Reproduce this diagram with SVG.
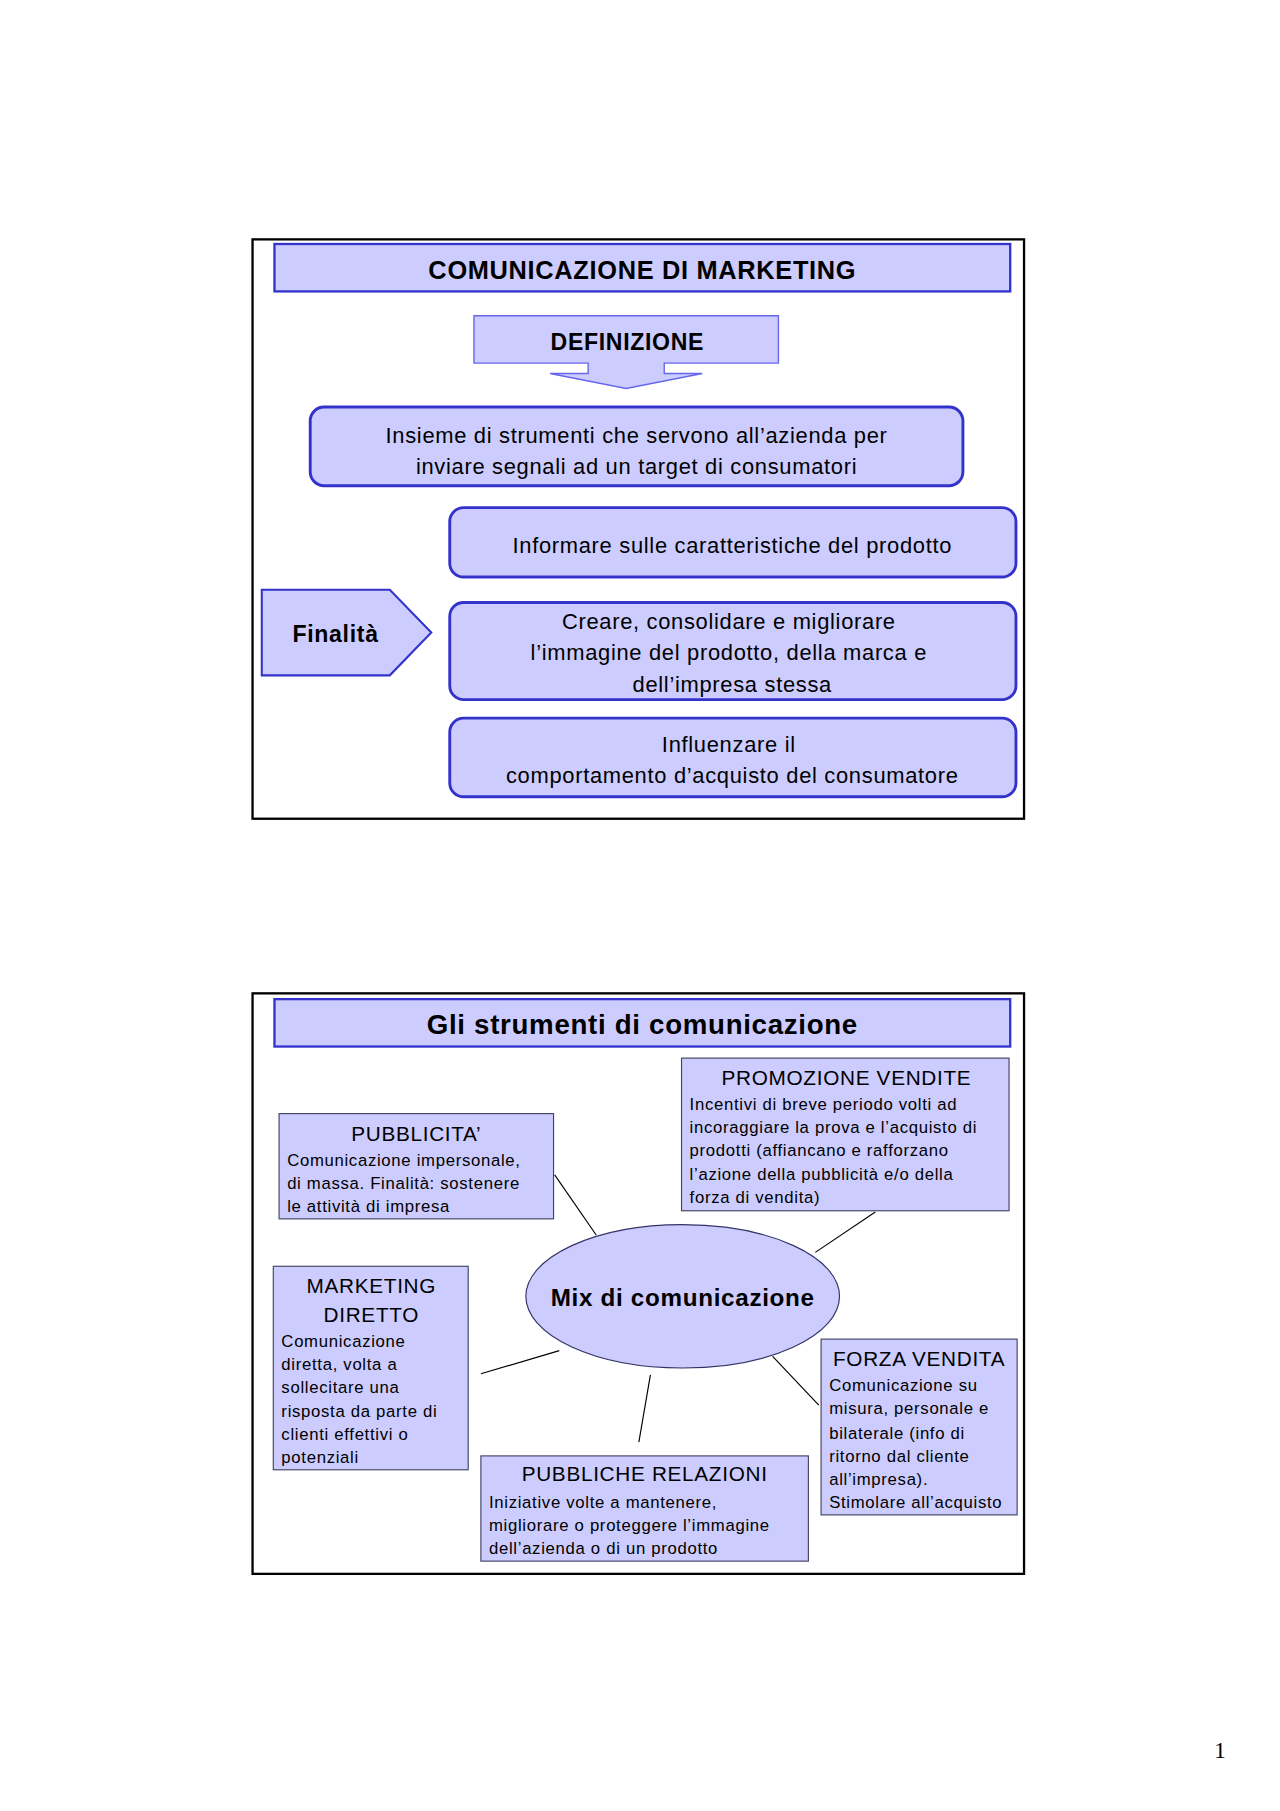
<svg xmlns="http://www.w3.org/2000/svg" width="1280" height="1811" viewBox="0 0 1280 1811">
<style>
.fr{fill:#fff;stroke:#000;stroke-width:2}
.bar{fill:#ccccff;stroke:#3333cc;stroke-width:2}
.rb{fill:#ccccff;stroke:#3333cc;stroke-width:2.5}
.thin{fill:#ccccff;stroke:#6666ee;stroke-width:1.2}
.nb{fill:#ccccff;stroke:#444466;stroke-width:1}
.t{font-family:"Liberation Sans",Arial,sans-serif;fill:#000;letter-spacing:0.6px}
.b{font-weight:bold}
.c{text-anchor:middle}
.ln{stroke:#000;stroke-width:1;fill:none}
</style>
<rect width="1280" height="1811" fill="#fff"/>
<g transform="scale(1.1532,1.1564)">
<rect class="fr" x="219" y="207" width="669" height="501"/>
<g id="title1"><rect class="bar" x="238" y="211" width="638" height="41"/><text class="t b c" x="557" y="241" font-size="22">COMUNICAZIONE DI MARKETING</text></g>
<g id="definizione"><path class="thin" d="M411,273H675V314H576V323H609L543,336L477,323H510V314H411Z"/><text class="t b c" x="544" y="303" font-size="20">DEFINIZIONE</text></g>
<g id="insieme"><rect class="rb" x="269" y="352" width="566" height="68" rx="12"/><text class="t c" font-size="19"><tspan x="552" y="383">Insieme di strumenti che servono all’azienda per</tspan><tspan x="552" y="410">inviare segnali ad un target di consumatori</tspan></text></g>
<g id="finalita"><path class="thin" stroke-width="2" d="M227,510H338L374,547L338,584H227Z" style="stroke:#3333cc;stroke-width:1.8"/><text class="t b c" x="291" y="555" font-size="20">Finalità</text></g>
<g id="f1"><rect class="rb" x="390" y="439" width="491" height="60" rx="12"/><text class="t c" x="635" y="478" font-size="19">Informare sulle caratteristiche del prodotto</text></g>
<g id="f2"><rect class="rb" x="390" y="521" width="491" height="84" rx="12"/><text class="t c" font-size="19"><tspan x="632" y="544">Creare, consolidare e migliorare</tspan><tspan x="632" y="571">l’immagine del prodotto, della marca e</tspan><tspan x="635" y="598">dell’impresa stessa</tspan></text></g>
<g id="f3"><rect class="rb" x="390" y="621" width="491" height="68" rx="12"/><text class="t c" font-size="19"><tspan x="632" y="650">Influenzare il</tspan><tspan x="635" y="677">comportamento d’acquisto del consumatore</tspan></text></g>

<rect class="fr" x="219" y="859" width="669" height="502"/>
<g id="title2"><rect class="bar" x="238" y="864" width="638" height="41"/><text class="t b c" x="557" y="894" font-size="24">Gli strumenti di comunicazione</text></g>
<g id="connectors">
<line class="ln" x1="481" y1="1016" x2="517" y2="1068"/>
<line class="ln" x1="759" y1="1048" x2="707" y2="1083"/>
<line class="ln" x1="417" y1="1188" x2="485" y2="1168"/>
<line class="ln" x1="564" y1="1189" x2="554" y2="1247"/>
<line class="ln" x1="670" y1="1173" x2="710" y2="1215"/>
</g>
<g id="promozione"><rect class="nb" x="591" y="915" width="284" height="132"/><text class="t c" x="734" y="938" font-size="18">PROMOZIONE VENDITE</text><text class="t" font-size="14.5"><tspan x="598" y="960">Incentivi di breve periodo volti ad</tspan><tspan x="598" y="980">incoraggiare la prova e l’acquisto di</tspan><tspan x="598" y="1000">prodotti (affiancano e rafforzano</tspan><tspan x="598" y="1020">l’azione della pubblicità e/o della</tspan><tspan x="598" y="1040">forza di vendita)</tspan></text></g>
<g id="pubblicita"><rect class="nb" x="242" y="963" width="238" height="91"/><text class="t c" x="361" y="987" font-size="18">PUBBLICITA’</text><text class="t" font-size="14.5"><tspan x="249" y="1008">Comunicazione impersonale,</tspan><tspan x="249" y="1028">di massa. Finalità: sostenere</tspan><tspan x="249" y="1048">le attività di impresa</tspan></text></g>
<g id="marketing"><rect class="nb" x="237" y="1095" width="169" height="176"/><text class="t c" font-size="18"><tspan x="322" y="1118">MARKETING</tspan><tspan x="322" y="1143">DIRETTO</tspan></text><text class="t" font-size="14.5"><tspan x="244" y="1165">Comunicazione</tspan><tspan x="244" y="1185">diretta, volta a</tspan><tspan x="244" y="1205">sollecitare una</tspan><tspan x="244" y="1225">risposta da parte di</tspan><tspan x="244" y="1245">clienti effettivi o</tspan><tspan x="244" y="1265">potenziali</tspan></text></g>
<g id="mix"><ellipse cx="592" cy="1121" rx="136" ry="62" fill="#ccccff" stroke="#333366" stroke-width="1"/><text class="t b c" x="592" y="1129" font-size="21">Mix di comunicazione</text></g>
<g id="forza"><rect class="nb" x="712" y="1158" width="170" height="152"/><text class="t c" x="797" y="1181" font-size="18">FORZA VENDITA</text><text class="t" font-size="14.5"><tspan x="719" y="1203">Comunicazione su</tspan><tspan x="719" y="1223">misura, personale e</tspan><tspan x="719" y="1244">bilaterale (info di</tspan><tspan x="719" y="1264">ritorno dal cliente</tspan><tspan x="719" y="1284">all’impresa).</tspan><tspan x="719" y="1304">Stimolare all’acquisto</tspan></text></g>
<g id="relazioni"><rect class="nb" x="417" y="1259" width="284" height="91"/><text class="t c" x="559" y="1281" font-size="18">PUBBLICHE RELAZIONI</text><text class="t" font-size="14.5"><tspan x="424" y="1304">Iniziative volte a mantenere,</tspan><tspan x="424" y="1324">migliorare o proteggere l’immagine</tspan><tspan x="424" y="1344">dell’azienda o di un prodotto</tspan></text></g>
<text x="1053" y="1520" font-family="Liberation Serif,serif" font-size="20">1</text>
</g>
</svg>
